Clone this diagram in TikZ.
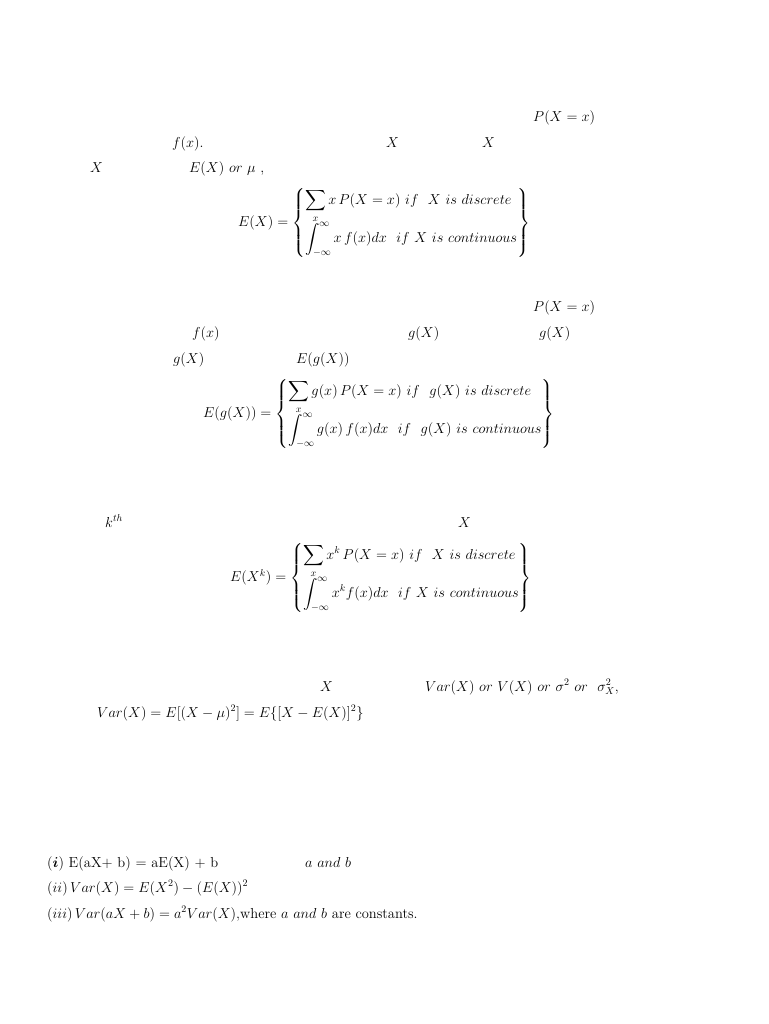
\documentclass[tikz,border=0pt]{standalone}
\usepackage{amsmath}
\begin{document}
\begin{tikzpicture}[x=1pt,y=-1pt,t/.style={anchor=base west,inner sep=0pt,font=\fontsize{14.5}{17}\selectfont},eq/.style={anchor=west,inner sep=0pt,font=\fontsize{14.5}{17}\selectfont}]
\useasboundingbox[fill=white] (0,0) rectangle (768,1024);
\node[t] (a1) at (533,122) {$P(X=x)$};
\node[t] (a2) at (172,148) {$f(x).$};
\node[t] (a3) at (386,148) {$X$};
\node[t] (a4) at (482,148) {$X$};
\node[t] (a5) at (90,173) {$X$};
\node[t] (a6) at (189,173) {$E(X)\ or\ \mu\ ,$};
\node[eq] (e1) at (238,223) {$E(X)=\left\{\begin{array}{@{}l@{}}\displaystyle\sum_x x\,P(X=x)\ if\ \ X\ is\ discrete\\[8pt] \displaystyle\int_{-\infty}^{\infty} x\,f(x)dx\ \ if\ X\ is\ continuous\end{array}\right\}$};
\node[t] (b1) at (533,311) {$P(X=x)$};
\node[t] (b2) at (192,337) {$f(x)$};
\node[t] (b3) at (408,337) {$g(X)$};
\node[t] (b4) at (539,337) {$g(X)$};
\node[t] (b5) at (173,363) {$g(X)$};
\node[t] (b6) at (296,363) {$E(g(X))$};
\node[eq] (e2) at (203,414) {$E(g(X))=\left\{\begin{array}{@{}l@{}}\displaystyle\sum_x g(x)\,P(X=x)\ if\ \ g(X)\ is\ discrete\\[8pt] \displaystyle\int_{-\infty}^{\infty} g(x)\,f(x)dx\ \ if\ \ g(X)\ is\ continuous\end{array}\right\}$};
\node[t] (c1) at (105,527) {$k^{th}$};
\node[t] (c2) at (458,527) {$X$};
\node[eq] (e3) at (230,578) {$E(X^k)=\left\{\begin{array}{@{}l@{}}\displaystyle\sum_x x^k\,P(X=x)\ if\ \ X\ is\ discrete\\[8pt] \displaystyle\int_{-\infty}^{\infty} x^k f(x)dx\ \ if\ X\ is\ continuous\end{array}\right\}$};
\node[t] (d1) at (320,691) {$X$};
\node[t] (d2) at (425,691) {$Var(X)\ or\ V(X)\ or\ \sigma^2\ or\ \ \sigma_X^2,$};
\node[t] (d3) at (97,717) {$Var(X)=E[(X-\mu)^2]=E\{[X-E(X)]^2\}$};
\node[t] (f1) at (47,867) {$(\boldsymbol{i})$ E(aX+ b) = aE(X) + b};
\node[t] (f2) at (305,867) {$a\ and\ b$};
\node[t] (f3) at (47,892) {$(ii)\,Var(X)=E(X^2)-(E(X))^2$};
\node[t] (f4) at (47,918) {$(iii)\,Var(aX+b)=a^2Var(X)$,where $a\ and\ b$ are constants.};
\end{tikzpicture}
\end{document}
